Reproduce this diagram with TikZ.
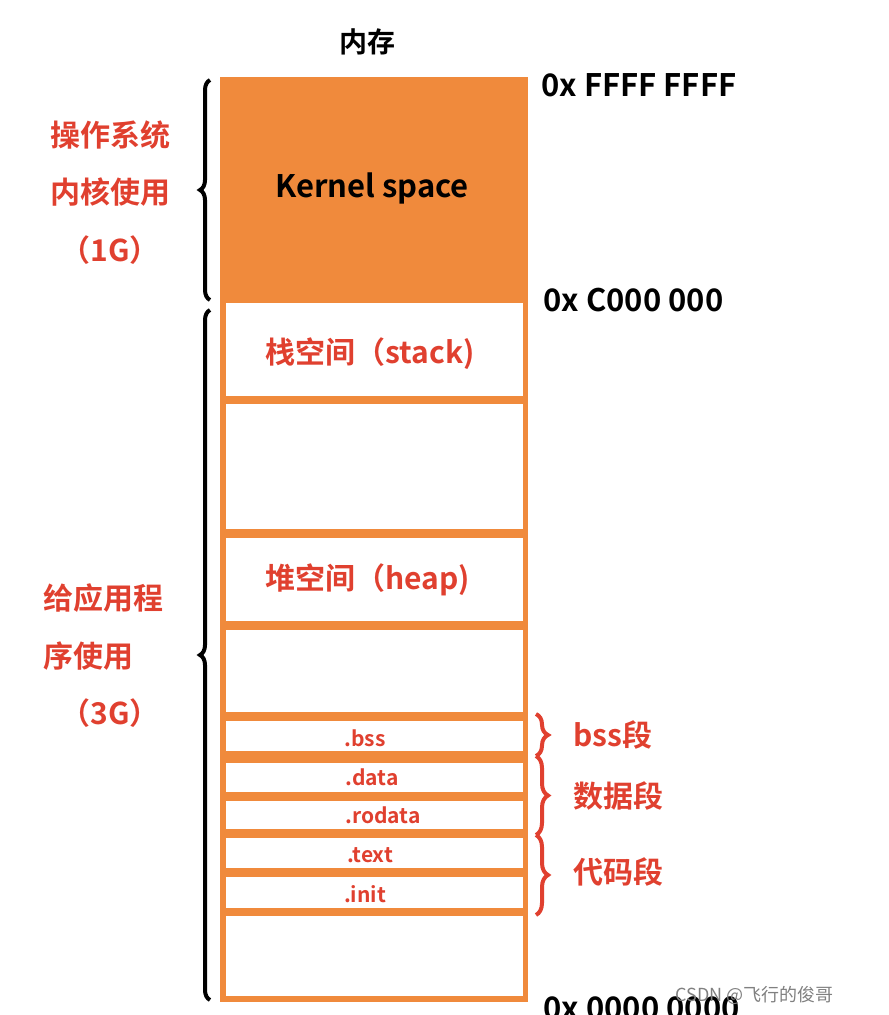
\documentclass[tikz,border=0pt]{standalone}
\usepackage{fontspec}
\setmainfont{Noto Sans CJK SC}[BoldFont={Noto Sans CJK SC Bold}]
\usetikzlibrary{decorations.pathreplacing}
\definecolor{memorange}{HTML}{F08A3C}
\definecolor{segred}{HTML}{E0402F}
\tikzset{
  slot/.style={fill=white, draw=none}, % white cell inside the column
  cell/.style={font=\bfseries\fontsize{21}{23}\selectfont, text=segred},
  area/.style={font=\bfseries\fontsize{30}{32}\selectfont, text=segred},
  addr/.style={font=\bfseries\fontsize{31}{33}\selectfont, anchor=west},
  side/.style={font=\bfseries\fontsize{30}{32}\selectfont, text=segred},
  bigbrace/.style={decorate, decoration={brace, amplitude=10pt}, line width=4pt},
  segbrace/.style={decorate, decoration={brace, amplitude=12pt}, line width=4pt, segred},
}
\begin{document}
\begin{tikzpicture}[x=1pt, y=-1pt]
  \useasboundingbox (0,0) rectangle (889,1015);
  % memory column
  \fill[memorange] (220,77) rectangle (528,1002);
  \foreach \top/\bot in {303/396, 404/529, 538/621, 630/712, 721/751, 763/792, 801/829, 838/868, 877/908, 916/996}
    \fill[white] (226,\top) rectangle (523,\bot);
  \node[font=\bfseries\fontsize{28}{30}\selectfont] (title) at (367,42) {内存};
  \node[font=\bfseries\fontsize{31}{33}\selectfont] (kernel) at (372,188) {Kernel space};
  \node[area] (stack) at (370,354) {栈空间（stack)};
  \node[area] (heap) at (368,580) {堆空间（heap)};
  \node[cell] (bss) at (365,738) {.bss};
  \node[cell] (data) at (372,777) {.data};
  \node[cell] (rodata) at (383,815) {.rodata};
  \node[cell] (text) at (370,855) {.text};
  \node[cell] (init) at (365,894) {.init};
  % addresses
  \node[addr] (ahigh) at (538,85) {0x FFFF FFFF};
  \node[addr] (akern) at (540,300) {0x C000 000};
  \node[addr] (alow) at (540,1008) {0x 0000 0000};
  \node[font=\fontsize{18}{20}\selectfont, text=gray, anchor=west] (mark) at (672,995) {CSDN @飞行的俊哥};
  % left braces
  \draw[bigbrace] (210,300) -- (210,80);
  \draw[bigbrace] (210,1000) -- (210,310);
  \node[side] (os1) at (110,135) {操作系统};
  \node[side] (os2) at (110,192) {内核使用};
  \node[side] (os3) at (110,250) {（1G）};
  \node[side, anchor=west] (app1) at (40,598) {给应用程};
  \node[side, anchor=west] (app2) at (40,656) {序使用};
  \node[side] (app3) at (110,713) {（3G）};
  % right braces
  \draw[segbrace] (536,714) -- (536,756);
  \draw[segbrace] (536,756) -- (536,835);
  \draw[segbrace] (536,835) -- (536,915);
  \node[side, anchor=west] (sbss) at (570,735) {bss段};
  \node[side, anchor=west] (sdata) at (570,796) {数据段};
  \node[side, anchor=west] (scode) at (570,872) {代码段};
\end{tikzpicture}
\end{document}
